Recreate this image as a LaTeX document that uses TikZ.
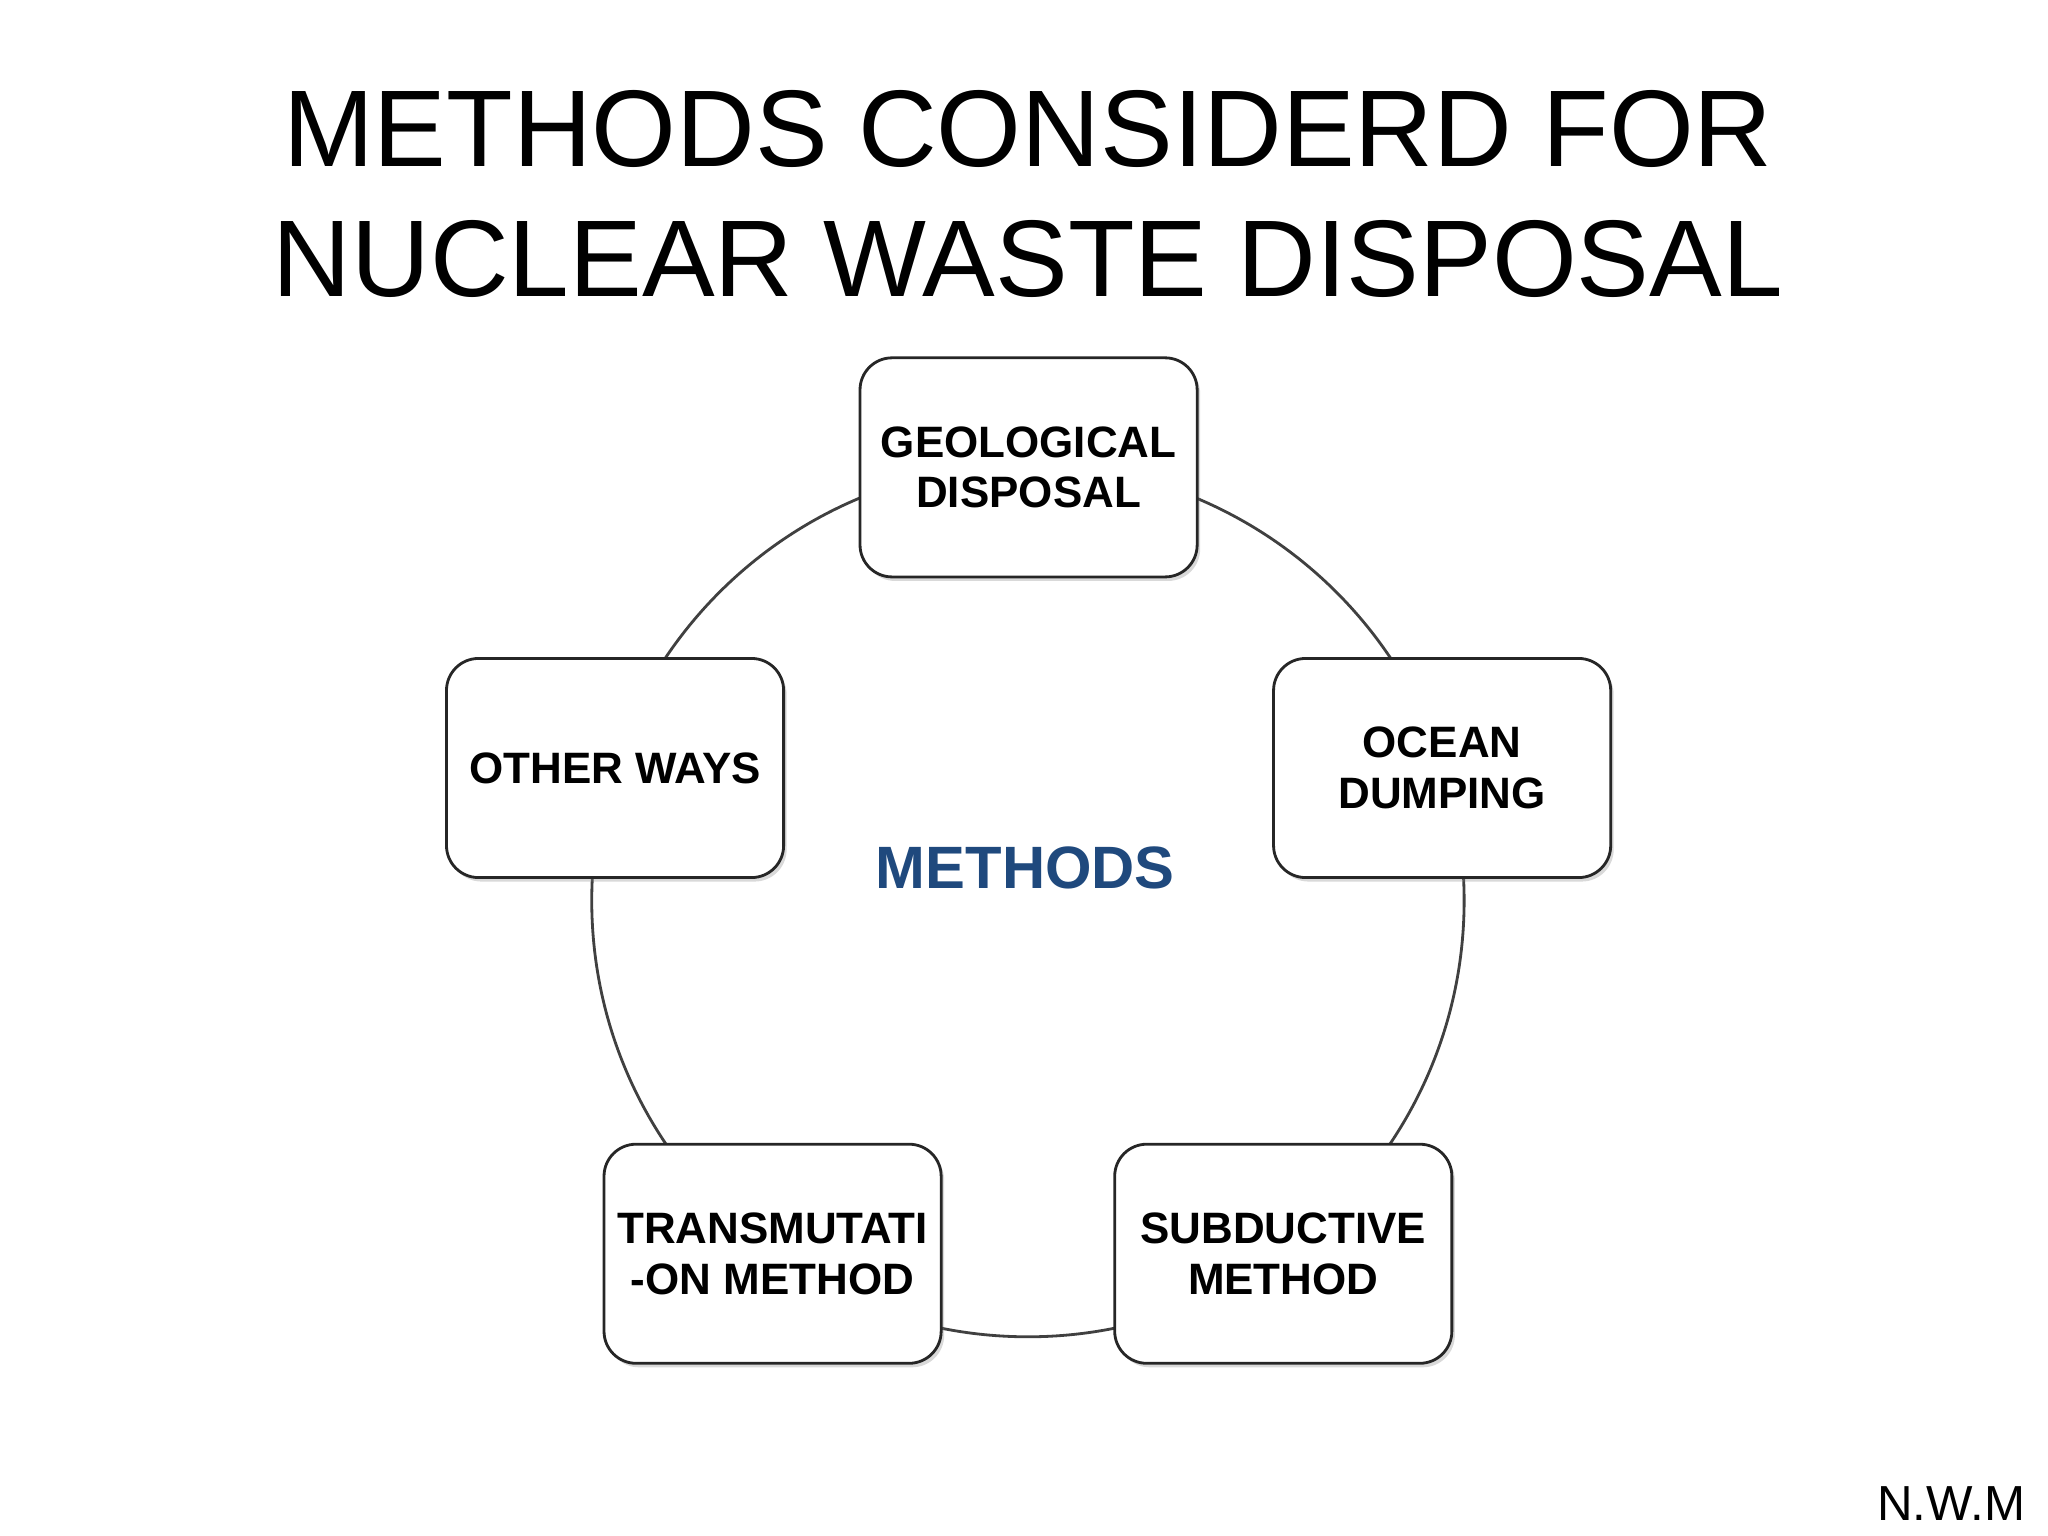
\documentclass[tikz,border=0pt]{standalone}
\usepackage{fontspec}
\setmainfont{Liberation Sans}
\usetikzlibrary{shadows}
\definecolor{mblue}{RGB}{31,73,125}
\tikzset{
  mbox/.style={draw=black!85,line width=0.8pt,fill=white,rounded corners=0.32cm,
    minimum width=3.37cm,minimum height=2.19cm,align=center,
    font=\fontsize{12.5}{14.5}\selectfont\bfseries,
    drop shadow={shadow xshift=0.03cm,shadow yshift=-0.04cm,opacity=0.3}}
}
\begin{document}
\begin{tikzpicture}[x=0.01313cm,y=-0.01313cm]
\useasboundingbox (0,0) rectangle (1560,1170);
\node[font=\fontsize{31}{37}\selectfont,align=center] (title) at (783,148) {METHODS CONSIDERD FOR\\NUCLEAR WASTE DISPOSAL};
\draw[line width=0.8pt,black!75] (783,686) circle[radius=4.36cm];
\node[mbox] (geo) at (783.5,356) {GEOLOGICAL\\DISPOSAL};
\node[mbox] (ocean) at (1098.5,585) {OCEAN\\DUMPING};
\node[mbox] (other) at (468.5,585) {OTHER WAYS};
\node[mbox] (trans) at (588.5,955) {TRANSMUTATI\\-ON METHOD};
\node[mbox] (sub) at (977.5,955) {SUBDUCTIVE\\METHOD};
\node[font=\fontsize{17}{20}\selectfont\bfseries,text=mblue] (center) at (781,661) {METHODS};
\node[font=\fontsize{14}{16}\selectfont,anchor=east] (nwm) at (1552,1145) {N.W.M};
\end{tikzpicture}
\end{document}
